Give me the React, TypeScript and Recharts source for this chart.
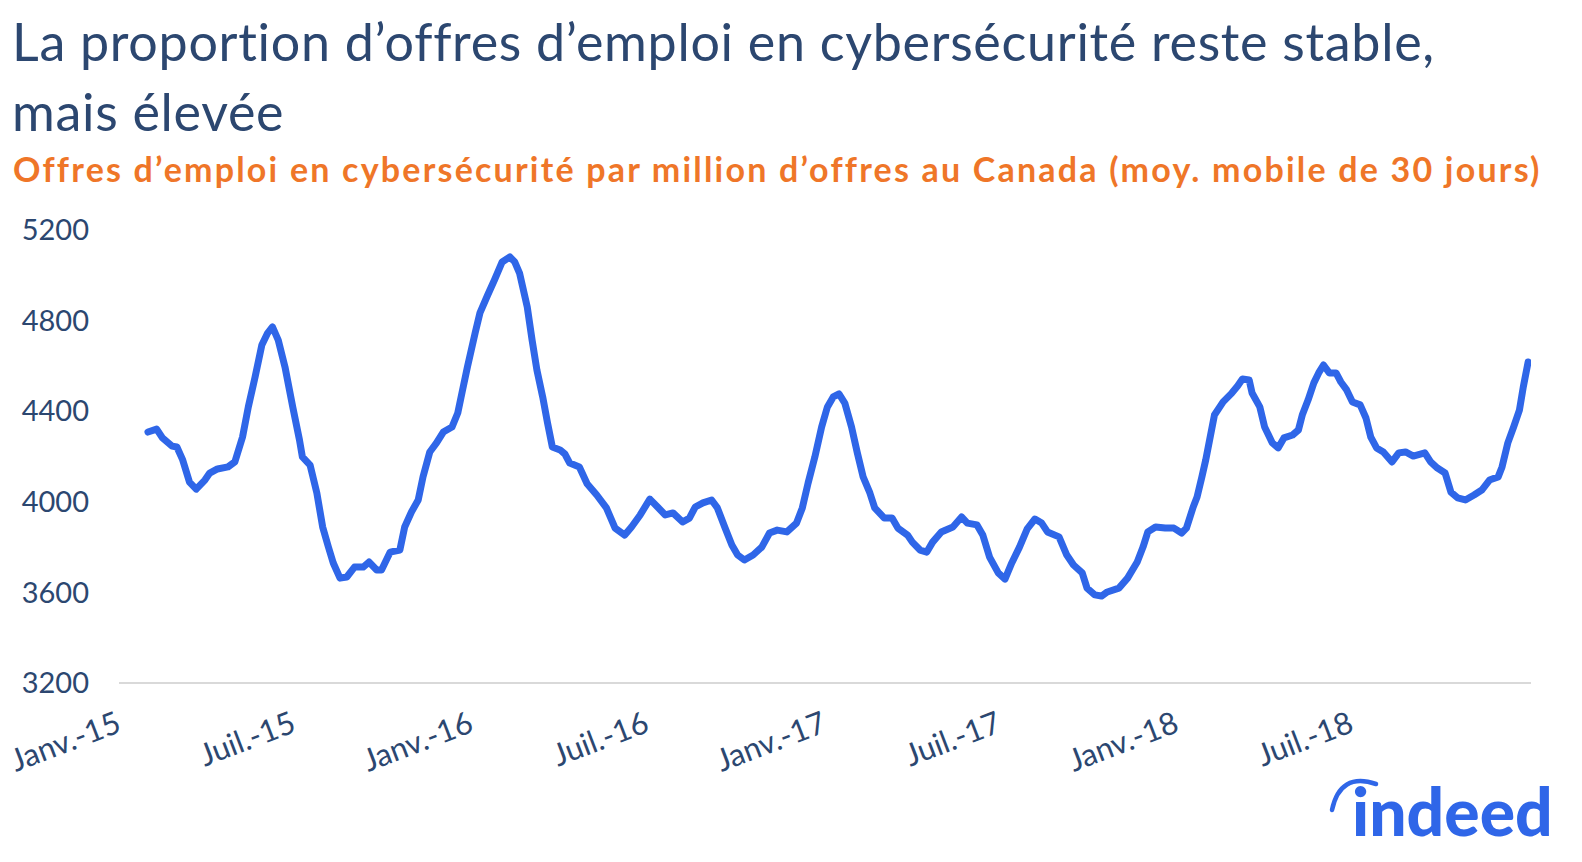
import { LineChart, Line, XAxis, YAxis } from 'recharts'

const NAVY = '#2C4770'
const ORANGE = '#EF7628'
const BLUE = '#2F66E8'

// jours depuis le 1er janvier 2015
const days = [
  26, 35, 41, 51, 56, 62, 69, 76, 85, 90, 98, 109, 116, 124, 130, 137, 144, 150, 155, 161,
  168, 176, 183, 186, 194, 201, 207, 213, 218, 225, 232, 240, 249, 255, 263, 268, 277, 287, 292, 299,
  306, 311, 318, 325, 332, 341, 347, 352, 357, 365, 370, 378, 385, 393, 401, 406, 411, 419, 424, 429,
  435, 440, 445, 453, 458, 463, 473, 481, 491, 501, 510, 520, 527, 536, 546, 554, 562, 570, 580, 587,
  593, 601, 610, 616, 624, 631, 637, 644, 653, 662, 670, 678, 688, 698, 704, 710, 717, 724, 730, 736,
  742, 748, 755, 761, 767, 774, 779, 789, 797, 803, 813, 818, 826, 833, 839, 848, 860, 869, 875, 885,
  891, 898, 907, 914, 921, 929, 937, 945, 952, 958, 970, 978, 985, 994, 999, 1007, 1014, 1020, 1032, 1041,
  1051, 1057, 1062, 1070, 1080, 1089, 1097, 1102, 1109, 1113, 1118, 1122, 1126, 1131, 1140, 1149, 1155, 1160, 1167, 1170,
  1178, 1183, 1191, 1197, 1203, 1212, 1218, 1222, 1228, 1234, 1239, 1244, 1250, 1257, 1262, 1268, 1274, 1282, 1288, 1293,
  1299, 1306, 1315, 1322, 1329, 1337, 1349, 1355, 1362, 1370, 1376, 1383, 1391, 1400, 1408, 1416, 1425, 1429, 1435, 1441,
  1447, 1451, 1456,
]

// offres en cybersécurité par million d'offres (moy. mobile 30 jours)
const perMillion = [
  4308, 4321, 4282, 4246, 4242, 4185, 4087, 4056, 4096, 4127, 4145, 4154, 4176, 4286, 4419, 4551, 4692, 4745, 4772, 4714,
  4595, 4419, 4273, 4198, 4162, 4039, 3889, 3800, 3730, 3663, 3668, 3712, 3712, 3734, 3699, 3699, 3778, 3787, 3889, 3955,
  4008, 4110, 4220, 4260, 4308, 4330, 4392, 4494, 4595, 4745, 4834, 4913, 4979, 5059, 5081, 5059, 5010, 4860, 4714, 4582,
  4463, 4348, 4242, 4229, 4211, 4171, 4154, 4080, 4030, 3973, 3884, 3853, 3889, 3942, 4012, 3977, 3942, 3951, 3911, 3928,
  3977, 3995, 4008, 3973, 3884, 3809, 3765, 3743, 3765, 3800, 3862, 3875, 3867, 3906, 3973, 4083, 4198, 4330, 4419, 4463,
  4476, 4436, 4330, 4216, 4110, 4039, 3973, 3928, 3928, 3884, 3853, 3822, 3787, 3778, 3822, 3867, 3889, 3933, 3906, 3898,
  3853, 3756, 3686, 3659, 3730, 3800, 3880, 3924, 3906, 3867, 3845, 3765, 3721, 3686, 3619, 3589, 3584, 3602, 3619, 3663,
  3734, 3800, 3867, 3889, 3884, 3884, 3862, 3884, 3977, 4021, 4110, 4185, 4273, 4383, 4441, 4480, 4511, 4542, 4538, 4480,
  4419, 4330, 4260, 4238, 4282, 4295, 4317, 4383, 4449, 4525, 4569, 4604, 4569, 4569, 4529, 4494, 4441, 4428, 4370, 4286,
  4238, 4220, 4176, 4216, 4220, 4202, 4216, 4176, 4149, 4127, 4043, 4017, 4008, 4030, 4052, 4096, 4110, 4154, 4260, 4330,
  4405, 4507, 4617,
]

const tickDates = ['2015-01-01', '2015-07-01', '2016-01-01', '2016-07-01', '2017-01-01', '2017-07-01', '2018-01-01', '2018-07-01']
const tickLabels = ['Janv.-15', 'Juil.-15', 'Janv.-16', 'Juil.-16', 'Janv.-17', 'Juil.-17', 'Janv.-18', 'Juil.-18']
const yTicks = [3200, 3600, 4000, 4400, 4800, 5200]

const START = Date.UTC(2015, 0, 1)
const toDay = (iso: string) => Math.round((Date.parse(iso) - START) / 86400000)
const tickDays = tickDates.map(toDay)

const data = days.map((d, i) => ({ day: d, value: perMillion[i] }))

function DateTick({ x, y, payload }: any) {
  const label = tickLabels[tickDays.indexOf(payload.value)]
  return (
    <text
      x={x}
      y={y}
      transform={`rotate(-21 ${x} ${y})`}
      textAnchor="end"
      fill={NAVY}
      fontSize={31}
      fontFamily="Lato"
    >
      {label}
    </text>
  )
}

export default function App() {
  return (
    <div style={{ position: 'absolute', left: 0, top: 0, width: 1582, height: 862, background: '#fff' }}>
      <svg width={1582} height={200} style={{ position: 'absolute', left: 0, top: 0 }}>
        <text x={12} y={61} fontFamily="Lato" fontSize={52} letterSpacing={0.7} fill={NAVY}>
          La proportion d’offres d’emploi en cybersécurité reste stable,
        </text>
        <text x={12} y={131} fontFamily="Lato" fontSize={52} letterSpacing={0.7} fill={NAVY}>
          mais élevée
        </text>
        <text x={13} y={182} fontFamily="Lato" fontWeight={700} fontSize={34} letterSpacing={2.2} fill={ORANGE}>
          Offres d’emploi en cybersécurité par million d’offres au Canada (moy. mobile de 30 jours)
        </text>
      </svg>
      <div style={{ position: 'absolute', left: 0, top: 0 }}>
        <LineChart width={1582} height={862} data={data} margin={{ top: 230, right: 51, bottom: 79, left: 19 }}>
          <XAxis
            dataKey="day"
            type="number"
            domain={[-4, 1459]}
            ticks={tickDays}
            tick={<DateTick />}
            tickLine={false}
            tickSize={0}
            tickMargin={48}
            height={100}
            axisLine={{ stroke: '#D9D9D9', strokeWidth: 2 }}
            allowDataOverflow
          />
          <YAxis
            domain={[3200, 5200]}
            ticks={yTicks}
            width={100}
            axisLine={false}
            tickLine={false}
            tickSize={0}
            tickMargin={30}
            tick={{ fill: NAVY, fontSize: 29, fontFamily: 'Lato' }}
          />
          <Line
            type="linear"
            dataKey="value"
            stroke={BLUE}
            strokeWidth={7}
            strokeLinejoin="round"
            strokeLinecap="round"
            dot={false}
            isAnimationActive={false}
          />
        </LineChart>
      </div>
      <svg width={272} height={100} style={{ position: 'absolute', left: 1310, top: 760 }}>
        <path d="M 22 50 Q 30 12 66 24" fill="none" stroke={BLUE} strokeWidth={4.5} strokeLinecap="round" />
        <text x={42} y={76} fontFamily="Lato" fontWeight={900} fontSize={66} fill={BLUE}>
          indeed
        </text>
      </svg>
    </div>
  )
}
